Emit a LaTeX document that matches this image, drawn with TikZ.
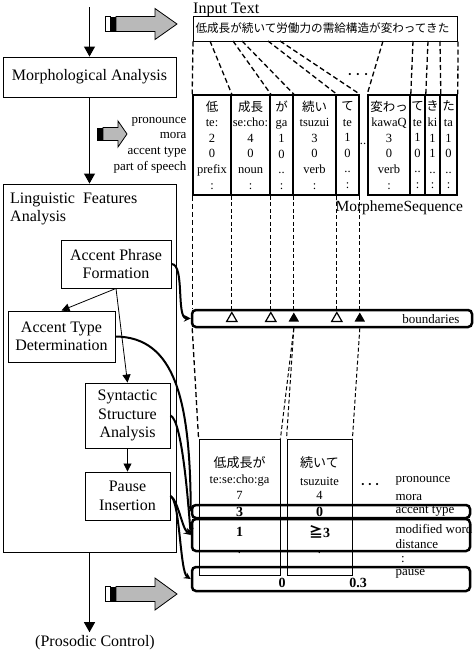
\documentclass[tikz,border=0pt]{standalone}
\usepackage{fontspec}
\setmainfont{Liberation Serif}
\newfontfamily\jp{Noto Sans CJK JP}
\usetikzlibrary{arrows.meta,shapes.geometric}

\tikzset{
  box/.style={draw, line width=0.9pt, align=center, inner sep=1pt, font=\fontsize{16}{18.5}\selectfont},
  big/.style={font=\fontsize{16}{18}\selectfont},
  col/.style={draw, line width=1.6pt, inner sep=0pt, minimum height=100, align=center, font=\fontsize{12.5}{15.6}\selectfont},
  lab/.style={font=\fontsize{13}{15.6}\selectfont},
  txt/.style={font=\fontsize{12.5}{14}\selectfont},
  num/.style={font=\fontsize{14}{14}\selectfont\bfseries},
  bar/.style={draw, line width=2.5pt, rounded corners=4pt, inner sep=0pt},
  tri/.style={regular polygon, regular polygon sides=3, minimum size=12, inner sep=0pt, line width=1.2pt},
  morphline/.style={dash pattern=on 5pt off 3pt, line width=1.3pt},
  apline/.style={dash pattern=on 4pt off 2.5pt, line width=1pt},
  flow/.style={-{Triangle[length=10pt,width=11pt]}, line width=1pt},
  subflow/.style={-{Triangle[length=8pt,width=8pt]}, line width=0.8pt},
  curve/.style={->, line width=2pt}
}

\begin{document}
\begin{tikzpicture}[x=1pt,y=-1pt,>=stealth]
   \useasboundingbox (0,0) rectangle (474,651);

   % 処理の流れ
   \coordinate (start) at (89.5,7);
   \node[box, minimum width=173, minimum height=40] (morph) at (89.5,77) {Morphological Analysis};
   \node[box, minimum width=173, minimum height=368] (ling) at (89.5,368) {};
   \node[big, anchor=north west, inner sep=0pt, align=left] (linglbl) at (10,193) {Linguistic\ \ Features\\Analysis};
   \node[box, minimum width=110, minimum height=48] (apf) at (116,264) {Accent Phrase\\Formation};
   \node[box, minimum width=107, minimum height=51] (atd) at (61.5,336.5) {Accent Type\\Determination};
   \node[box, minimum width=85, minimum height=65] (ssa) at (127.5,415.5) {Syntactic\\Structure\\Analysis};
   \node[box, minimum width=85, minimum height=48] (pin) at (127.5,496) {Pause\\Insertion};
   \node[big] (prosodic) at (95,643) {(Prosodic Control)};

   \draw[flow] (start) -- (morph.north);
   \draw[flow] (morph.south) -- (ling.north);
   \draw[flow] (ling.south) -- (ling.south |- prosodic.north);
   \draw[subflow] (apf.south) -- (atd.north);
   \draw[subflow] (apf.south) -- (ssa.north);
   \draw[subflow] (ssa.south) -- (pin.north);

   % 灰色の矢印
   \draw[line width=0.8pt, fill=gray!55] (116,16.5) -- (155,16.5) -- (155,8.5) -- (177,24) -- (155,39.5) -- (155,31.5) -- (116,31.5) -- cycle;
   \draw[line width=0.8pt, fill=white] (105,16.5) rectangle (110,31.5);
   \fill (110,16.5) rectangle (116,31.5);
   \draw[line width=0.8pt, fill=gray!55] (103,127.5) -- (118,127.5) -- (118,121) -- (127,134) -- (118,147) -- (118,140.5) -- (103,140.5) -- cycle;
   \fill (97,127.5) rectangle (103,140.5);
   \draw[line width=0.8pt, fill=gray!55] (116,586.5) -- (155,586.5) -- (155,578) -- (177,594) -- (155,610) -- (155,601.5) -- (116,601.5) -- cycle;
   \draw[line width=0.8pt, fill=white] (105,586.5) rectangle (110,601.5);
   \fill (110,586.5) rectangle (116,601.5);

   % 入力テキスト
   \node[big, anchor=base west, inner sep=0pt] (inlbl) at (193,13) {Input Text};
   \node[draw, line width=1pt, anchor=west, text width=260, inner xsep=2, inner ysep=0, minimum height=25, align=left, font=\jp\fontsize{11.6}{12}\selectfont] (input) at (193,28.5) {低成長が続いて労働力の需給構造が変わってきた};

   % 形態素列
   \node[lab, anchor=east, align=right] (morphrows) at (190,145) {pronounce\\mora\\accent type\\part of speech};
   \node[col, minimum width=38] (m1) at (212,145) {{\jp 低}\\te:\\2\\0\\prefix\\:};
   \node[col, minimum width=39] (m2) at (250.5,145) {{\jp 成長}\\se:cho:\\4\\0\\noun\\:};
   \node[col, minimum width=23] (m3) at (281.5,145) {{\jp が}\\ga\\1\\0\\..\\:};
   \node[col, minimum width=43] (m4) at (314.5,145) {{\jp 続い}\\tsuzui\\3\\0\\verb\\:};
   \node[col, minimum width=23] (m5) at (347.5,145) {{\jp て}\\te\\1\\0\\..\\:};
   \node[col, minimum width=42] (m6) at (389,145) {{\jp 変わっ}\\kawaQ\\3\\0\\verb\\:};
   \node[col, minimum width=15] (m7) at (417.5,145) {{\jp て}\\te\\1\\0\\..\\:};
   \node[col, minimum width=15] (m8) at (432.5,145) {{\jp き}\\ki\\1\\1\\..\\:};
   \node[col, minimum width=17] (m9) at (448.5,145) {{\jp た}\\ta\\1\\0\\..\\:};
   \node[txt] (gapdots) at (363,144) {..};
   \node[font=\fontsize{9}{9}\selectfont] (topdots) at (358,75) {\textbullet\hspace{5pt}\textbullet\hspace{5pt}\textbullet};
   \node[anchor=west, font=\fontsize{15.5}{17}\selectfont] (mslbl) at (332,208) {MorphemeSequence};

   \coordinate (k1) at (210,41);
   \coordinate (k3) at (233,41);
   \coordinate (k4) at (242,41);
   \coordinate (k6) at (268,41);
   \coordinate (k7) at (280,41);
   \coordinate (k16) at (383,41);
   \coordinate (k19) at (413,41);
   \coordinate (k20) at (428,41);
   \coordinate (k21) at (440,41);
   \draw[morphline] (input.south west) -- (m1.north west);
   \draw[morphline] (k1) -- (m1.north east);
   \draw[morphline] (k3) -- (m2.north east);
   \draw[morphline] (k4) -- (m3.north east);
   \draw[morphline] (k6) -- (m4.north east);
   \draw[morphline] (k7) -- (m5.north east);
   \draw[morphline] (k16) -- (m6.north west);
   \draw[morphline] (k19) -- (m6.north east);
   \draw[morphline] (k20) -- (m7.north east);
   \draw[morphline] (k21) -- (m8.north east);
   \draw[morphline] (input.south east) -- (m9.north east);

   % 境界
   \node[bar, minimum width=280, minimum height=17] (bnd) at (332,318.5) {};
   \draw[morphline] (m1.south west) -- (m1.south west |- bnd.north);
   \draw[apline] (m1.south east) -- (m1.south east |- bnd.north);
   \draw[apline] (m2.south east) -- (m2.south east |- bnd.north);
   \draw[apline] (m3.south east) -- (m3.south east |- bnd.north);
   \draw[apline] (m4.south east) -- (m4.south east |- bnd.north);
   \draw[apline] (m5.south east) -- (m5.south east |- bnd.north);
   \node[tri, draw, fill=white] (t1) at (m1.south east |- bnd.center) {};
   \node[tri, draw, fill=white] (t2) at (m2.south east |- bnd.center) {};
   \node[tri, fill=black] (t3) at (m3.south east |- bnd.center) {};
   \node[tri, draw, fill=white] (t4) at (m4.south east |- bnd.center) {};
   \node[tri, fill=black] (t5) at (m5.south east |- bnd.center) {};
   \node[lab, anchor=east] (bndlbl) at (463,319) {boundaries};

   % アクセント句
   \node[draw, line width=0.9pt, minimum width=81, minimum height=136, inner sep=0pt] (ap1) at (239.5,507) {};
   \node[draw, line width=0.9pt, minimum width=65, minimum height=136, inner sep=0pt] (ap2) at (319.5,507) {};
   \draw[morphline] (m1.south west |- bnd.south) -- (ap1.north west);
   \draw[apline] (t3 |- bnd.south) -- (ap1.north east);
   \draw[apline] (t3 |- bnd.south) -- (ap2.north west);
   \draw[apline] (t5 |- bnd.south) -- (ap2.north east);

   \node[font=\jp\fontsize{13}{13}\selectfont] (ap1a) at (239.5,463) {低成長が};
   \node[txt] (ap1b) at (239.5,481) {te:se:cho:ga};
   \node[txt] (ap1c) at (239.5,495) {7};
   \node[num] (ap1d) at (239.5,512) {3};
   \node[num] (ap1e) at (239.5,532) {1};
   \node[txt] (ap1f) at (239.5,553) {.};
   \node[font=\jp\fontsize{13}{13}\selectfont] (ap2a) at (319.5,463) {続いて};
   \node[txt] (ap2b) at (319.5,481) {tsuzuite};
   \node[txt] (ap2c) at (319.5,495) {4};
   \node[num] (ap2d) at (319.5,512) {0};
   \node[num] (ap2e) at (319.5,532) {{\jp ≧}3};
   \node[txt] (ap2f) at (319.5,553) {.};
   \node[font=\fontsize{9}{9}\selectfont] (apdots) at (370,485) {\textbullet\hspace{4pt}\textbullet\hspace{4pt}\textbullet};
   \node[num] (pause1) at (282,583) {0};
   \node[num] (pause2) at (358,583) {0.3};

   \node[bar, minimum width=278, minimum height=13] (atbar) at (331,511.5) {};
   \node[bar, minimum width=278, minimum height=32] (mdbar) at (331,535) {};
   \node[bar, minimum width=278, minimum height=24] (psbar) at (331,579) {};

   \node[lab, anchor=west] (rpron) at (392,481) {pronounce};
   \node[lab, anchor=west] (rmora) at (392,497) {mora};
   \node[lab, anchor=west] (racc) at (392,511.5) {accent type};
   \node[lab, anchor=west, align=left, font=\fontsize{13}{14.5}\selectfont] (rmod) at (392,536.5) {modified word\\distance};
   \node[lab, anchor=west, inner sep=1pt] (rcolon) at (400,560) {:};
   \node[lab, anchor=west] (rpause) at (392,574) {pause};

   % 各処理から特徴へ
   \draw[curve] (apf.east) .. controls (185,264) and (176,318) .. (bnd.west);
   \draw[curve] (atd.east) .. controls (175,337) and (190,400) .. (atbar.west);
   \draw[curve] (ssa.east) .. controls (182,420) and (188,500) .. (mdbar.west);
   \draw[curve] (pin.east) .. controls (178,500) and (182,528) .. (mdbar.west);
   \draw[curve] (pin.east) .. controls (180,500) and (180,572) .. (psbar.west);

\end{tikzpicture}
\end{document}
